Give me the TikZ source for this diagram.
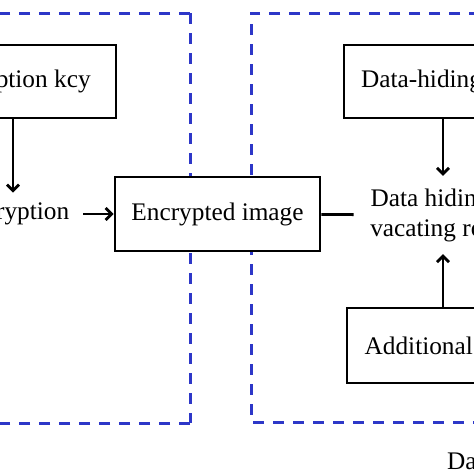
\documentclass[tikz,border=0pt]{standalone}
\usepackage{fontspec}
\setmainfont{Liberation Serif}
\usetikzlibrary{arrows.meta}
\definecolor{dashblue}{RGB}{45,55,200}
\begin{document}
\begin{tikzpicture}[x=1pt,y=-1pt,
  txt/.style={font=\fontsize{25.3}{30}\selectfont},
  box/.style={txt, draw, fill=white, line width=2.9pt, minimum width=#1, minimum height=73pt, inner sep=0pt},
  plain/.style={txt, inner sep=4pt, align=center},
  arr/.style={line width=2.8pt, -{Straight Barb[length=6pt,width=12pt]}},
  group/.style={draw=dashblue, line width=3pt, dash pattern=on 11pt off 9pt}]
\useasboundingbox (0,0) rectangle (474,474);
\clip (0,0) rectangle (474,474);
\fill[white] (0,0) rectangle (474,474);
% groups
\draw[group] (190,423) -- (-30,423);
\draw[group] (190,13) -- (-30,13);
\draw[group] (190,13) -- (190,423);
\draw[group] (520,13) -- (251,13) -- (251,422) -- (520,422);
% nodes
\node[box=206pt] (ekey) at (13,81.5) {Encryption kcy};
\node[plain] (encr) at (13,214) {Encryption};
\node[box=205pt, minimum height=74pt] (eimg) at (217.5,214) {Encrypted image};
\node[box=198pt] (dkey) at (443,81.5) {Data-hiding key};
\node[plain] (dh) at (443,215) {Data hiding in\\vacating room};
\node[box=192pt, minimum height=75pt] (add) at (443,345.5) {Additional data};
\node[plain, inner sep=0pt, anchor=base west] (dhider) at (447,469) {Data hider};
% connectors
\draw[arr, shorten >=6pt] (ekey) -- (encr);
\draw[arr, shorten <=10pt] (encr) -- (eimg);
\draw[line width=2.8pt, shorten >=12.5pt] (eimg) -- (dh);
\draw[arr, shorten >=8.5pt] (dkey) -- (dh);
\draw[arr, shorten >=8.5pt] (add) -- (dh);
\end{tikzpicture}
\end{document}
